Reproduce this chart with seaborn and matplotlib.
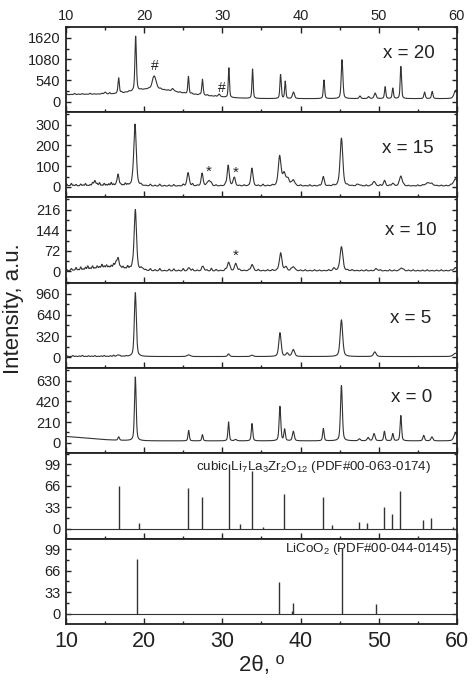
import numpy as np
import pandas as pd
import seaborn as sns
from matplotlib import pyplot as plt
from matplotlib.ticker import MultipleLocator, AutoMinorLocator

sns.set_style("ticks")
plt.rcParams["font.family"] = ["Liberation Sans", "DejaVu Sans"]
plt.rcParams["mathtext.fontset"] = "custom"
plt.rcParams["mathtext.rm"] = "Liberation Sans"
plt.rcParams["mathtext.it"] = "Liberation Sans:italic"

# ---- measured patterns: peak position (deg), height above background, FWHM (deg)
x20_pos = [15.0, 16.75, 18.92, 21.3, 23.7, 25.67, 27.46, 29.6, 30.84, 33.87, 37.45, 38.05, 39.1,
           43.0, 45.31, 47.6, 48.7, 49.54, 50.82, 51.8, 52.83, 55.86, 56.84, 59.85]
x20_int = [40, 390, 1380, 330, 50, 440, 405, 60, 750, 750, 610, 440, 165,
           470, 990, 66, 50, 140, 300, 265, 820, 165, 180, 215]
x20_fwhm = [0.3, 0.2, 0.22, 0.55, 0.4, 0.18, 0.2, 0.3, 0.18, 0.18, 0.2, 0.18, 0.3,
            0.2, 0.25, 0.25, 0.25, 0.3, 0.2, 0.2, 0.2, 0.22, 0.22, 0.5]
x20_bg = 80
x20_hump_pos = [13.0, 21.0, 26.0]
x20_hump_int = [110, 170, 80]
x20_hump_fwhm = [14.0, 6.0, 8.0]
x20_noise = [20, 6, 28, 10, 18, 4, 24, 12, 8, 22, 14, 30, 6, 16, 26, 10, 20, 8, 24, 14,
             6, 18, 28, 12, 22, 8, 16, 26, 10, 20, 14, 6, 24, 12, 18, 8, 22, 10, 16, 6]

x15_pos = [13.7, 16.66, 18.84, 25.63, 27.42, 28.3, 30.75, 31.5, 33.78, 37.33, 37.9, 38.4, 39.08,
           42.9, 45.23, 47.4, 49.4, 50.73, 51.8, 52.83, 56.4, 59.8]
x15_int = [22, 48, 298, 60, 56, 26, 100, 36, 86, 143, 60, 33, 28,
           43, 230, 7, 22, 25, 13, 48, 15, 33]
x15_fwhm = [0.3, 0.3, 0.38, 0.35, 0.3, 0.5, 0.3, 0.35, 0.3, 0.4, 0.45, 0.4, 0.4,
            0.3, 0.4, 0.4, 0.4, 0.3, 0.3, 0.4, 1.0, 0.6]
x15_bg = 4
x15_noise_a = [10, 3, 13, 5, 8, 2, 10, 6, 12, 4, 7, 15, 5, 11, 16, 5, 13, 8, 11, 17,
               9, 6, 10, 8, 5, 12, 7, 3, 9]
x15_noise_b = [6, 2, 8, 4, 9, 3, 5, 7, 2, 8, 5, 10, 4, 6, 3, 8, 5, 2, 7, 4,
               9, 3, 5, 2, 6, 4, 8, 3, 5, 2, 5, 4, 7, 3, 5, 2, 6, 3, 4, 5,
               2, 5, 3, 6, 4, 2, 5, 3, 5, 4, 2, 6, 3, 5, 2, 4, 5, 3, 2, 5,
               4, 3, 5, 2, 4, 3, 5, 2]

x10_pos = [16.4, 16.66, 18.88, 19.8, 25.76, 27.55, 30.8, 31.73, 33.8, 37.45, 38.1, 39.08,
           44.3, 45.23, 49.7, 52.9, 59.8]
x10_int = [12, 26, 212, 6, 10, 14, 30, 25, 22, 62, 12, 14,
           8, 84, 6, 10, 8]
x10_fwhm = [0.35, 0.35, 0.36, 0.3, 0.3, 0.3, 0.35, 0.35, 0.35, 0.38, 0.4, 0.4,
            0.3, 0.42, 0.4, 0.4, 0.6]
x10_bg = 2
x10_hump_pos = [15.5]
x10_hump_int = [10]
x10_hump_fwhm = [4.5]
x10_noise_a = [5, 1, 8, 3, 11, 4, 12, 5, 10, 14, 6, 12, 5, 10, 7, 14, 8, 11, 6, 9,
               13, 7, 10, 5, 8, 4, 11, 6, 8]
x10_noise_b = [6, 3, 7, 4, 8, 2, 6, 7, 3, 8, 4, 6, 3, 7, 4, 9, 5, 2, 6, 4,
               3, 5, 2, 4, 3, 5, 2, 4, 4, 2, 4, 3, 5, 2, 3, 4, 2, 4, 3, 2,
               4, 3, 2, 4, 3, 4, 2, 3, 4, 2, 3, 4, 2, 4, 3, 2, 4, 3, 4, 2,
               3, 4, 2, 3, 4, 2, 3, 4]

x5_pos = [16.66, 18.88, 25.7, 30.8, 33.8, 37.37, 38.3, 39.08, 45.23, 49.5, 59.8]
x5_int = [20, 965, 25, 40, 20, 360, 50, 104, 555, 70, 50]
x5_fwhm = [0.3, 0.3, 0.5, 0.3, 0.4, 0.35, 0.35, 0.4, 0.38, 0.4, 0.6]
x5_bg = 10
x5_noise = [12, 4, 16, 6, 10, 18, 5, 12, 8, 14, 4, 10, 16, 6, 12, 20, 8, 14, 6, 10]

x0_pos = [16.75, 18.88, 25.7, 27.46, 30.8, 31.7, 33.8, 37.37, 37.97, 39.08, 42.92, 45.23,
          47.53, 48.64, 49.4, 50.73, 51.8, 52.83, 55.75, 56.8, 59.8]
x0_int = [35, 645, 106, 63, 192, 14, 175, 350, 116, 97, 124, 562,
          20, 33, 73, 97, 73, 258, 56, 40, 80]
x0_fwhm = [0.22, 0.25, 0.2, 0.2, 0.2, 0.3, 0.22, 0.25, 0.22, 0.28, 0.22, 0.28,
           0.3, 0.3, 0.3, 0.22, 0.22, 0.22, 0.25, 0.3, 0.45]
x0_bg = 20
x0_hump_pos = [8.0]
x0_hump_int = [50]
x0_hump_fwhm = [10.0]

# ---- reference cards (stick patterns)
llzo_pos = [16.75, 19.35, 25.67, 27.42, 30.8, 32.3, 33.78, 35.23, 37.88, 42.88, 44.07,
            47.45, 48.5, 50.65, 51.72, 52.7, 55.65, 56.67, 59.5]
llzo_int = [65, 9, 63, 49, 100, 7, 88, 3, 54, 49, 6, 11, 9, 33, 23, 58, 14, 16, 2]
lco_pos = [19.14, 37.28, 38.9, 39.0, 45.35, 49.67]
lco_int = [84, 49, 5, 17, 100, 15]

sample_names = ["x = 20", "x = 15", "x = 10", "x = 5", "x = 0"]
sample_yticks = [[0, 540, 1080, 1620], [0, 100, 200, 300], [0, 72, 144, 216],
                 [0, 320, 640, 960], [0, 210, 420, 630]]
sample_ylims = [(-260, 1900), (-50, 360), (-39, 259), (-162, 1127), (-105, 759)]
card_yticks = [0, 33, 66, 99]
card_ylims = [(-15, 116), (-15, 115)]

two_theta = np.arange(10.0, 60.001, 0.02)


def peaks(pos, hgt, fwhm, eta=0.45):
    out = np.zeros_like(two_theta)
    for p, h, w in zip(pos, hgt, fwhm):
        d = (two_theta - p) / (w / 2)
        out += h * (eta / (1 + d ** 2) + (1 - eta) * np.exp(-np.log(2) * d ** 2))
    return out


def humps(pos, hgt, fwhm):
    return peaks(pos, hgt, fwhm, eta=0.0)


def noise(vals, start, step):
    pos = start + step * np.arange(len(vals))
    return peaks(pos, vals, [0.2] * len(vals), eta=0.0)


patterns = [
    x20_bg + humps(x20_hump_pos, x20_hump_int, x20_hump_fwhm) + peaks(x20_pos, x20_int, x20_fwhm)
    + noise(x20_noise, 10.1, 0.5),
    x15_bg + peaks(x15_pos, x15_int, x15_fwhm) + noise(x15_noise_a, 10.1, 0.3) + noise(x15_noise_b, 19.6, 0.6),
    x10_bg + humps(x10_hump_pos, x10_hump_int, x10_hump_fwhm) + peaks(x10_pos, x10_int, x10_fwhm)
    + noise(x10_noise_a, 10.1, 0.3) + noise(x10_noise_b, 19.6, 0.6),
    x5_bg + peaks(x5_pos, x5_int, x5_fwhm) + noise(x5_noise, 10.1, 0.4),
    x0_bg + humps(x0_hump_pos, x0_hump_int, x0_hump_fwhm) + peaks(x0_pos, x0_int, x0_fwhm),
]

line_col = "#333333"
text_col = "#222222"

fig, axes = plt.subplots(7, 1, figsize=(4.74, 6.87), dpi=100, sharex=True)
fig.subplots_adjust(left=0.139, right=0.964, top=0.961, bottom=0.092, hspace=0)

label_x = [0.944, 0.940, 0.949, 0.934, 0.938]
label_y = [0.69, 0.57, 0.61, 0.58, 0.655]

for i, ax in enumerate(axes[:5]):
    df = pd.DataFrame({"two_theta": two_theta, "intensity": patterns[i]})
    sns.lineplot(data=df, x="two_theta", y="intensity", ax=ax, color=line_col,
                 linewidth=0.8, estimator=None, sort=False)
    ax.set_ylim(*sample_ylims[i])
    ax.set_yticks(sample_yticks[i])
    ax.text(label_x[i], label_y[i], sample_names[i], transform=ax.transAxes,
            ha="right", va="center", fontsize=13.5, color=text_col)

# phase markers
axes[0].text(21.35, 905, "#", ha="center", va="center", fontsize=10, color=text_col)
axes[0].text(29.9, 362, "#", ha="center", va="center", fontsize=10, color=text_col)
axes[1].text(28.3, 73, "*", ha="center", va="center", fontsize=11, color=text_col)
axes[1].text(31.7, 70, "*", ha="center", va="center", fontsize=11, color=text_col)
axes[2].text(31.7, 54, "*", ha="center", va="center", fontsize=11, color=text_col)

cards = [(llzo_pos, llzo_int), (lco_pos, lco_int)]
for j, ax in enumerate(axes[5:]):
    pos, hgt = cards[j]
    ax.axhline(0, color=line_col, linewidth=0.8)
    ax.vlines(pos, 0, hgt, color=line_col, linewidth=1.0)
    ax.set_ylim(*card_ylims[j])
    ax.set_yticks(card_yticks)

axes[5].text(0.933, 0.84, r"cubic Li$_\mathrm{7}$La$_\mathrm{3}$Zr$_\mathrm{2}$O$_\mathrm{12}$ (PDF#00-063-0174)",
             transform=axes[5].transAxes, ha="right", va="center", fontsize=9.6, color=text_col)
axes[6].text(0.989, 0.88, r"LiCoO$_\mathrm{2}$ (PDF#00-044-0145)",
             transform=axes[6].transAxes, ha="right", va="center", fontsize=9.6, color=text_col)

for i, ax in enumerate(axes):
    ax.set_xlim(10, 60)
    ax.xaxis.set_major_locator(MultipleLocator(10))
    ax.xaxis.set_minor_locator(MultipleLocator(5))
    ax.yaxis.set_minor_locator(AutoMinorLocator(2))
    ax.set_xlabel("")
    ax.set_ylabel("")
    for sp in ax.spines.values():
        sp.set_linewidth(1.3)
        sp.set_color("#222222")
    ax.tick_params(axis="y", which="both", direction="in", left=True, right=True,
                   labelsize=10.5, pad=4, width=1.0, colors="#222222")
    ax.tick_params(axis="y", which="major", length=3.5)
    ax.tick_params(axis="y", which="minor", length=2.5)
    ax.tick_params(axis="x", which="both", direction="in", bottom=True, top=(i == 0),
                   labelbottom=(i == 6), labeltop=(i == 0), width=1.0, colors="#222222")
    ax.tick_params(axis="x", which="major", length=4)
    ax.tick_params(axis="x", which="minor", length=2.5)

axes[0].tick_params(axis="x", labelsize=10.5, pad=3)
axes[6].tick_params(axis="x", labelsize=15.5, pad=5)

axes[6].set_xlabel("2θ, º", fontsize=16, color=text_col, labelpad=2)
fig.text(0.028, 1 - 309 / 687, "Intensity, a.u.", rotation=90, ha="center", va="center",
         fontsize=16, color=text_col)

plt.savefig("out.png", dpi=100)
plt.close()
